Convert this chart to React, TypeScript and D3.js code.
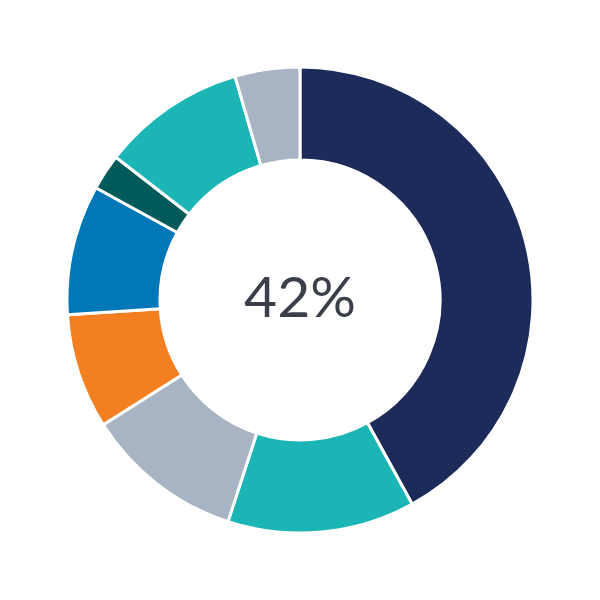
import { useMemo } from "react";
import * as d3 from "d3";

const W = 600;
const H = 600;
const OUTER = 233;
const INNER = 140;

// Slices clockwise from 12 o'clock
const LABELS = ["A", "B", "C", "D", "E", "F", "G", "H"];
const VALUES = [42, 13, 11, 8, 9, 2.5, 10, 4.5];
const COLORS = ["#1c2b5a", "#1cb5b5", "#a8b3c3", "#f47f20", "#0077b6", "#005a5a", "#1cb5b5", "#a8b3c3"];
const CENTER_LABEL = "42%";

export default function App() {
  const arcs = useMemo(() => {
    const pie = d3.pie<number>().sort(null).value(d => d);
    return pie(VALUES);
  }, []);

  const arc = d3.arc<d3.PieArcDatum<number>>().innerRadius(INNER).outerRadius(OUTER);

  return (
    <svg width={W} height={H} style={{ display: "block", position: "absolute", left: 0, top: 0 }}>
      <rect width={W} height={H} fill="#ffffff" />
      <g transform={`translate(${W / 2},${H / 2})`}>
        {arcs.map((a, i) => (
          <path
            key={LABELS[i]}
            d={arc(a) ?? ""}
            fill={COLORS[i]}
            stroke="#ffffff"
            strokeWidth={3}
            strokeLinejoin="round"
          />
        ))}
        <text
          x={0}
          y={17}
          textAnchor="middle"
          fill="#3a3f4a"
          fontSize={57}
          fontWeight={400}
          fontFamily="Lato, 'Open Sans', sans-serif"
        >
          {CENTER_LABEL}
        </text>
      </g>
    </svg>
  );
}
